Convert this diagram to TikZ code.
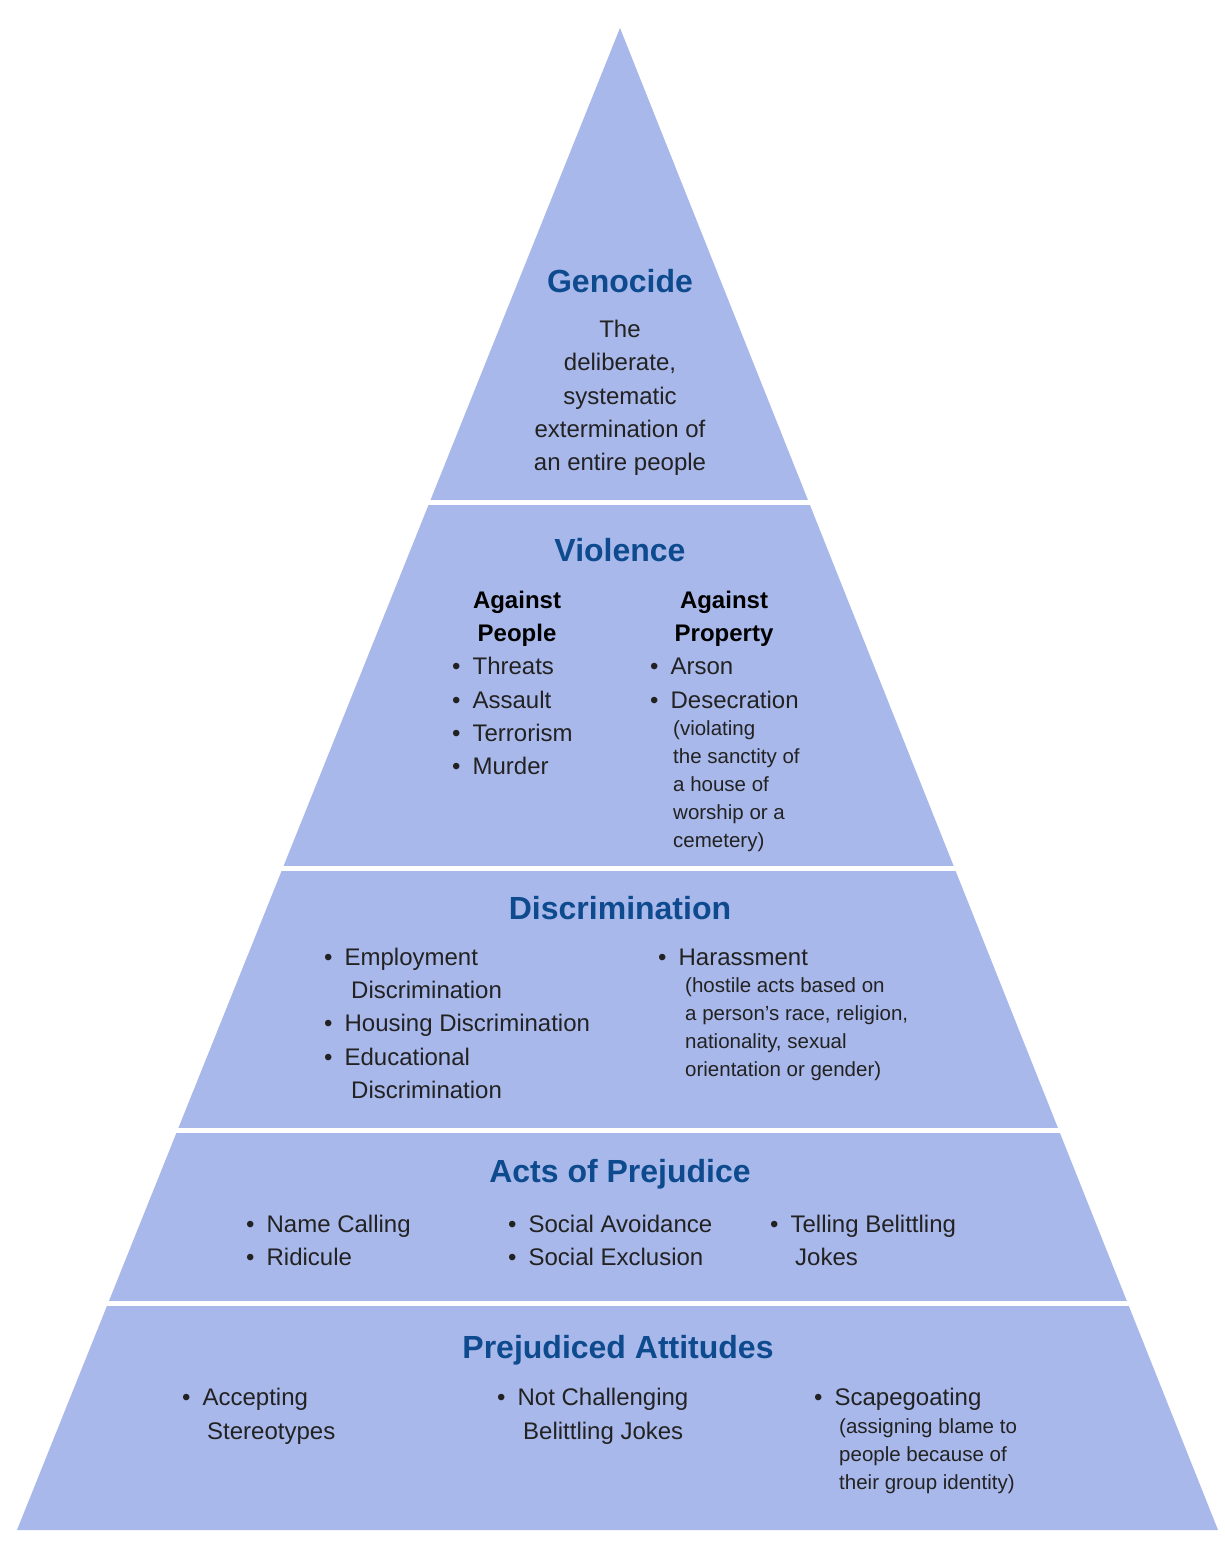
\documentclass[tikz,border=0pt]{standalone}
\usepackage{fontspec}
\setmainfont{Liberation Sans}
\definecolor{pyr}{HTML}{A9B8EA}
\definecolor{ttl}{HTML}{0E4A8E}
\definecolor{txt}{HTML}{222222}
\newcommand{\bl}{•\hspace{12pt}}
\begin{document}
\begin{tikzpicture}[x=1pt,y=-1pt,
  ttlst/.style={font=\fontsize{32}{34}\selectfont\bfseries,text=ttl,anchor=center,inner sep=0,yshift=-2pt},
  bod/.style={font=\fontsize{24}{26}\selectfont,text=txt,anchor=mid west,inner sep=0,yshift=-6pt},
  bodc/.style={font=\fontsize{24}{26}\selectfont,text=txt,anchor=mid,inner sep=0,yshift=-6pt},
  hd/.style={font=\fontsize{24}{26}\selectfont\bfseries,text=black,anchor=mid,inner sep=0,yshift=-6pt},
  sm/.style={font=\fontsize{20.5}{22}\selectfont,text=txt,anchor=mid west,inner sep=0,yshift=-5pt},
  gap/.style={white,line width=5pt}]
\useasboundingbox[fill=white] (0,0) rectangle (1224,1547);
\coordinate (apex) at (620,28);
\coordinate (bl) at (17,1530);
\coordinate (br) at (1218,1530);
\fill[pyr] (apex) -- (br) -- (bl) -- cycle;
\foreach \y in {502,868,1130,1303}{\draw[gap] (0,\y) -- (1224,\y);}
% Genocide
\node[ttlst] (g) at (620,279) {Genocide};
\node[bodc] (g1) at (620,329) {The};
\node[bodc] (g2) at (620,362) {deliberate,};
\node[bodc] (g3) at (620,396) {systematic};
\node[bodc] (g4) at (620,429) {extermination of};
\node[bodc] (g5) at (620,462) {an entire people};
% Violence
\node[ttlst] (v) at (620,548) {Violence};
\node[hd] (vp1) at (517,600) {Against};
\node[hd] (vp2) at (517,633) {People};
\node[hd] (vq1) at (724,600) {Against};
\node[hd] (vq2) at (724,633) {Property};
\foreach \t/\y [count=\i] in {Threats/666,Assault/700,Terrorism/733,Murder/766}{
  \node[bod] (vpb\i) at (452,\y) {\bl\t};}
\node[bod] (vq3) at (650,666) {\bl Arson};
\node[bod] (vq4) at (650,700) {\bl Desecration};
\node[sm] (vs1) at (673,728) {(violating};
\node[sm] (vs2) at (673,756) {the sanctity of};
\node[sm] (vs3) at (673,784) {a house of};
\node[sm] (vs4) at (673,812) {worship or a};
\node[sm] (vs5) at (673,840) {cemetery)};
% Discrimination
\node[ttlst] (d) at (620,906) {Discrimination};
\node[bod] (d1) at (324,957) {\bl Employment};
\node[bod] (d2) at (351,990) {Discrimination};
\node[bod] (d3) at (324,1023) {\bl Housing Discrimination};
\node[bod] (d4) at (324,1057) {\bl Educational};
\node[bod] (d5) at (351,1090) {Discrimination};
\node[bod] (d6) at (658,957) {\bl Harassment};
\node[sm] (ds1) at (685,985) {(hostile acts based on};
\node[sm] (ds2) at (685,1013) {a person’s race, religion,};
\node[sm] (ds3) at (685,1041) {nationality, sexual};
\node[sm] (ds4) at (685,1069) {orientation or gender)};
% Acts
\node[ttlst] (a) at (620,1172) {Acts of Prejudice};
\node[bod] (a1) at (246,1224) {\bl Name Calling};
\node[bod] (a2) at (246,1257) {\bl Ridicule};
\node[bod] (a3) at (508,1224) {\bl Social Avoidance};
\node[bod] (a4) at (508,1257) {\bl Social Exclusion};
\node[bod] (a5) at (770,1224) {\bl Telling Belittling};
\node[bod] (a6) at (795,1257) {Jokes};
% Attitudes
\node[ttlst] (p) at (618,1348) {Prejudiced Attitudes};
\node[bod] (p1) at (182,1397) {\bl Accepting};
\node[bod] (p2) at (207,1431) {Stereotypes};
\node[bod] (p3) at (497,1397) {\bl Not Challenging};
\node[bod] (p4) at (523,1431) {Belittling Jokes};
\node[bod] (p5) at (814,1397) {\bl Scapegoating};
\node[sm] (ps1) at (839,1426) {(assigning blame to};
\node[sm] (ps2) at (839,1454) {people because of};
\node[sm] (ps3) at (839,1482) {their group identity)};
\end{tikzpicture}
\end{document}
